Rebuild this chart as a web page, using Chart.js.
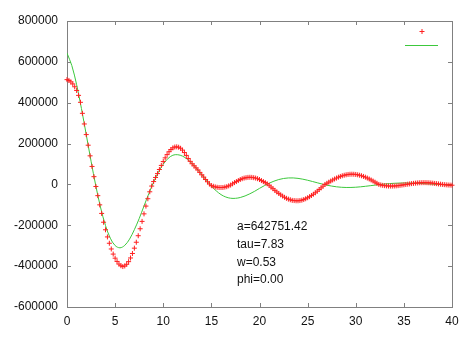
<!DOCTYPE html>
<html>
<head>
<meta charset="utf-8">
<script src="https://cdn.jsdelivr.net/npm/chart.js@4.4.0/dist/chart.umd.min.js"></script>
<style>
  html, body { margin: 0; padding: 0; background: #fff; }
  #wrap { width: 474px; height: 355px; }
</style>
</head>
<body>
<div id="wrap"><canvas id="chartCanvas" width="474" height="355"></canvas></div>
<script>
// measured points (red +), one every 0.2 from t = 0 to 40
const dataStep = 0.2;
const dataValues = [
  513000, 509000, 502000, 492000, 478000, 460000, 436000, 402000, 348000, 296000,
  244000, 192000, 140000, 88000, 38000, -10000, -55000, -100000, -142000, -185000,
  -222000, -257000, -288000, -316000, -341000, -361000, -377000, -390000, -398000, -402000,
  -399000, -391000, -378000, -360000, -338000, -312000, -283000, -251000, -217000, -181000,
  -144000, -106000, -70000, -36000, -8000, 14000, 34000, 53000, 73000, 93000,
  112000, 130000, 146000, 160000, 171000, 179000, 183000, 184000, 182000, 177000,
  168000, 156000, 142000, 127000, 113000, 101000, 91000, 81000, 71000, 59000,
  47000, 36000, 24000, 13000, 2000, -6000, -9000, -12000, -14000, -15000,
  -15000, -15000, -13000, -11000, -7000, -3000, 3000, 9000, 14000, 19000,
  24000, 28000, 31000, 33000, 34500, 35000, 34500, 33000, 31000, 28000,
  24000, 19000, 14000, 9000, 3000, -4000, -13000, -21000, -29000, -37000,
  -44000, -51000, -57000, -63000, -68000, -72000, -75000, -78000, -79000, -80000,
  -80000, -79000, -77000, -74000, -70000, -65000, -60000, -54000, -48000, -41000,
  -33000, -25000, -17000, -8500, 0, 5600, 11000, 16500, 21700, 26600,
  31200, 35400, 39100, 42400, 45000, 47200, 48800, 49700, 50000, 49700,
  48800, 47200, 45000, 42400, 39100, 35400, 31200, 26600, 21700, 16500,
  11000, 5600, 0, -2500, -4500, -6000, -7000, -7800, -8000, -8000,
  -7600, -7000, -6000, -4600, -3200, -1700, -200, 1200, 2600, 4000,
  5200, 6300, 7200, 8000, 8500, 8800, 8800, 8500, 8000, 7200,
  6200, 5000, 3800, 2500, 1200, 0, -1000, -2000, -2800, -3400,
  -3800
];

// fitted curve (green), one every 0.5 from t = 0 to 40
const fitStep = 0.5;
const fitValues = [
  642751, 581900, 488100, 371600, 243400, 113500, -8400, -115300, -201300, -263200,
  -299200, -310200, -298400, -267600, -221300, -167100, -105600, -44800, 11700, 60500,
  99300, 127100, 143000, 145500, 138600, 123300, 101600, 76200, 47500, 18800,
  -8800, -31300, -49700, -61600, -67600, -68000, -64000, -56300, -45800, -33400,
  -19300, -6100, 5900, 16000, 23900, 29100, 31700, 31800, 29700, 25700,
  20500, 14400, 8100, 2000, -3500, -8100, -11600, -13900, -14900, -14800,
  -13700, -11700, -9200, -6300, -3400, -500, 2000, 4100, 5600, 6600,
  7100, 6900, 6300, 5400, 4100, 2800, 1400, 100, -1100, -2000,
  -2700
];

const xTicks = [0, 5, 10, 15, 20, 25, 30, 35, 40];
const yTicks = [-600000, -400000, -200000, 0, 200000, 400000, 600000, 800000];
const fitLabels = ['a=642751.42', 'tau=7.83', 'w=0.53', 'phi=0.00'];

const FONT = '"Liberation Sans", Arial, Helvetica, sans-serif';
const RED = '#ff2020';
const GREEN = '#3cc83c';
const FRAME = '#808080';

const toPoints = (vals, step) => vals.map((v, i) => ({ x: +(i * step).toFixed(2), y: v }));

// gnuplot style box with inward ticks, key and parameter text
const gnuplotFrame = {
  id: 'gnuplotFrame',
  beforeDatasetsDraw(chart) {
    const { ctx, chartArea: a, scales: { x, y } } = chart;
    ctx.save();
    ctx.strokeStyle = FRAME;
    ctx.lineWidth = 1;
    ctx.beginPath();
    xTicks.forEach(v => {
      const px = Math.round(x.getPixelForValue(v)) + 0.5;
      ctx.moveTo(px, a.bottom); ctx.lineTo(px, a.bottom - 4);
      ctx.moveTo(px, a.top); ctx.lineTo(px, a.top + 4);
    });
    yTicks.forEach(v => {
      const py = Math.round(y.getPixelForValue(v)) + 0.5;
      ctx.moveTo(a.left, py); ctx.lineTo(a.left + 4, py);
      ctx.moveTo(a.right, py); ctx.lineTo(a.right - 4, py);
    });
    ctx.stroke();
    ctx.strokeRect(Math.round(a.left) + 0.5, Math.round(a.top) + 0.5,
      Math.round(a.right - a.left), Math.round(a.bottom - a.top));
    ctx.restore();
  },
  afterDraw(chart) {
    const { ctx } = chart;
    ctx.save();
    // key: red plus, green line
    ctx.strokeStyle = RED;
    ctx.lineWidth = 1;
    ctx.beginPath();
    ctx.moveTo(419.5, 31.5); ctx.lineTo(424.5, 31.5);
    ctx.moveTo(422, 29); ctx.lineTo(422, 34);
    ctx.stroke();
    ctx.strokeStyle = GREEN;
    ctx.beginPath();
    ctx.moveTo(405, 45.5); ctx.lineTo(438, 45.5);
    ctx.stroke();
    // fit parameters
    ctx.fillStyle = '#111';
    ctx.font = '12px ' + FONT;
    ctx.textBaseline = 'middle';
    ctx.textAlign = 'left';
    fitLabels.forEach((t, i) => ctx.fillText(t, 237, 227 + i * 17.7));
    ctx.restore();
  }
};

const ctx = document.getElementById('chartCanvas').getContext('2d');
new Chart(ctx, {
  type: 'scatter',
  data: {
    datasets: [
      {
        label: 'data',
        data: toPoints(dataValues, dataStep),
        pointStyle: 'cross',
        pointRadius: 2.5,
        pointBorderWidth: 1,
        borderColor: RED,
        backgroundColor: RED,
        showLine: false,
        clip: 5
      },
      {
        label: 'fit',
        data: toPoints(fitValues, fitStep),
        showLine: true,
        pointRadius: 0,
        borderColor: GREEN,
        borderWidth: 1,
        tension: 0.35,
        fill: false
      }
    ]
  },
  options: {
    responsive: false,
    animation: false,
    layout: { padding: { top: 21, right: 22, left: 0, bottom: 0 } },
    plugins: {
      legend: { display: false },
      tooltip: { enabled: false }
    },
    scales: {
      x: {
        type: 'linear',
        min: 0,
        max: 40,
        afterBuildTicks: s => { s.ticks = xTicks.map(v => ({ value: v })); },
        afterFit: s => { s.height = 48; },
        grid: { display: false, drawTicks: false },
        border: { display: false },
        ticks: {
          padding: 7,
          color: '#111',
          font: { family: FONT, size: 12 },
          callback: v => String(v)
        }
      },
      y: {
        type: 'linear',
        min: -600000,
        max: 800000,
        afterBuildTicks: s => { s.ticks = yTicks.map(v => ({ value: v })); },
        afterFit: s => { s.width = 67; },
        grid: { display: false, drawTicks: false },
        border: { display: false },
        ticks: {
          padding: 9,
          color: '#111',
          font: { family: FONT, size: 12 },
          callback: v => String(v)
        }
      }
    }
  },
  plugins: [gnuplotFrame]
});
</script>
</body>
</html>
